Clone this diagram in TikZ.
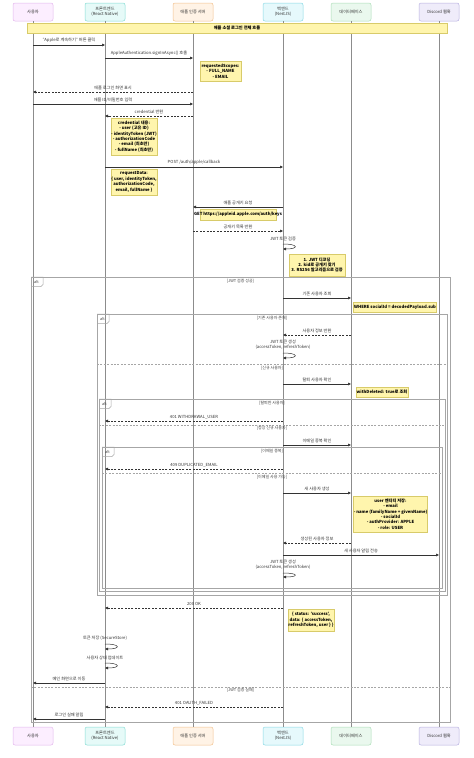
\documentclass[tikz,border=0pt]{standalone}
\usepackage{fontspec}
\setmainfont{Noto Sans CJK KR}
\usetikzlibrary{arrows.meta}
\definecolor{notefill}{HTML}{FFF5AD}
\definecolor{notestroke}{HTML}{D8CB6A}
\definecolor{ufill}{HTML}{FCEEFF}\definecolor{uline}{HTML}{E2B6EC}
\definecolor{ffill}{HTML}{E6FAF8}\definecolor{fline}{HTML}{84DCD4}
\definecolor{afill}{HTML}{FFF3E6}\definecolor{aline}{HTML}{F2C08C}
\definecolor{bfill}{HTML}{E6F9FC}\definecolor{bline}{HTML}{86D8E4}
\definecolor{dfill}{HTML}{EAF8EE}\definecolor{dline}{HTML}{A9DDB6}
\definecolor{wfill}{HTML}{EFECFA}\definecolor{wline}{HTML}{B7B0E0}
\tikzset{
  txt/.style={font=\fontsize{4.2}{5.2}\selectfont},
  actor/.style={txt, draw, rounded corners=2pt, line width=0.5pt, minimum width=40pt, minimum height=18pt, align=center, inner sep=0.5pt, text=black!80},
  lifeline/.style={draw=black!45, line width=0.6pt},
  msgarrow/.style={draw=black!80, line width=0.5pt, -{Triangle[length=3pt,width=2.6pt]}},
  reply/.style={msgarrow, dash pattern=on 2pt off 1.4pt},
  lbl/.style={txt, text=black!80, inner sep=0.5pt, above, yshift=1.3pt, align=center},
  notebox/.style={txt, font=\fontsize{4.2}{5.4}\selectfont\bfseries, draw=notestroke, fill=notefill, line width=0.4pt, align=center, inner sep=0.5pt},
  frame/.style={draw=black!35, line width=0.5pt},
  divider/.style={draw=black!35, line width=0.5pt, dash pattern=on 2pt off 1.4pt},
  cond/.style={txt, font=\fontsize{4}{5}\selectfont, text=black!75, inner sep=0.5pt},
  tabtxt/.style={txt, font=\fontsize{3.8}{4.5}\selectfont, text=black!75, inner sep=0.5pt}
}
\newcommand\mymsg[6]{% name, x1, x2, y, style, label
  \coordinate (#1s) at (#2,#4);
  \coordinate (#1e) at (#3,#4);
  \draw[#5] (#1s) -- node[lbl]{#6} (#1e);}
\newcommand\myself[5]{% name, x, y1, y2, label
  \coordinate (#1s) at (#2,#3);
  \coordinate (#1e) at (#2,#4);
  \node[lbl, anchor=south, above=0pt] (#1l) at (#2,#3-1.5) {#5};
  \draw[msgarrow] (#1s) .. controls +(16,0) and +(16,0) .. (#1e);}
\newcommand\myalt[5]{% name, x1, y1, x2, y2
  \draw[frame] (#2,#3) rectangle (#4,#5);
  \draw[frame] (#2,#3) -- (#2+12,#3) -- (#2+12,#3+7.5) -- (#2+10,#3+9.5) -- (#2,#3+9.5);
  \node[tabtxt] (#1tab) at (#2+5.5,#3+4.6) {alt};}
\begin{document}
\begin{tikzpicture}[x=1pt,y=-1pt]
\useasboundingbox (0,0) rectangle (474,758);
% participants
\node[actor, draw=uline, fill=ufill] (uT) at (33,12) {사용자};
\node[actor, draw=fline, fill=ffill] (fT) at (105,12) {프론트엔드\\(React Native)};
\node[actor, draw=aline, fill=afill] (aT) at (193,12) {애플 인증 서버};
\node[actor, draw=bline, fill=bfill] (bT) at (283,12) {백엔드\\(NestJS)};
\node[actor, draw=dline, fill=dfill] (dT) at (351,12) {데이터베이스};
\node[actor, draw=wline, fill=wfill] (wT) at (439,12) {Discord 웹훅};
\node[actor, draw=uline, fill=ufill] (uB) at (33,736) {사용자};
\node[actor, draw=fline, fill=ffill] (fB) at (105,736) {프론트엔드\\(React Native)};
\node[actor, draw=aline, fill=afill] (aB) at (193,736) {애플 인증 서버};
\node[actor, draw=bline, fill=bfill] (bB) at (283,736) {백엔드\\(NestJS)};
\node[actor, draw=dline, fill=dfill] (dB) at (351,736) {데이터베이스};
\node[actor, draw=wline, fill=wfill] (wB) at (439,736) {Discord 웹훅};
% lifelines
\draw[lifeline] (uT) -- (uB);
\draw[lifeline] (fT) -- (fB);
\draw[lifeline] (aT) -- (aB);
\draw[lifeline] (bT) -- (bB);
\draw[lifeline] (dT) -- (dB);
\draw[lifeline] (wT) -- (wB);
% frames
\myalt{o}{31}{277}{450}{722}
\node[cond] (oc1) at (240.5,281.5) {[JWT 검증 성공]};
\draw[divider] (31,687) -- (450,687);
\node[cond] (oc2) at (240.5,690.5) {[JWT 검증 실패]};
\myalt{i}{97}{314}{447}{595}
\node[cond] (ic1) at (272,318.5) {[기존 사용자 존재]};
\draw[divider] (97,364) -- (447,364);
\node[cond] (ic2) at (272,368) {[신규 사용자]};
\myalt{j}{99}{399}{445}{591.5}
\node[cond] (jc1) at (272,403) {[탈퇴한 사용자]};
\draw[divider] (99,425) -- (445,425);
\node[cond] (jc2) at (272,428.5) {[정상 신규 사용자]};
\myalt{k}{102}{447}{442}{588}
\node[cond] (kc1) at (272,451) {[이메일 중복]};
\draw[divider] (102,473) -- (442,473);
\node[cond] (kc2) at (272,477) {[이메일 사용 가능]};
% title note
\node[notebox, minimum width=420pt, minimum height=10pt] (title) at (237,28) {애플 소셜 로그인 전체 흐름};
% messages
\mymsg{m1}{33}{105}{45}{msgarrow}{"Apple로 계속하기" 버튼 클릭}
\mymsg{m2}{105}{193}{58}{msgarrow}{AppleAuthentication.signInAsync() 호출}
\node[notebox, minimum width=41pt, minimum height=20pt] (n1) at (220.5,71) {requestedScopes:\\- FULL\_NAME\\- EMAIL};
\mymsg{m3}{193}{33}{92}{reply}{애플 로그인 화면 표시}
\mymsg{m4}{33}{193}{104}{msgarrow}{애플 ID/비밀번호 입력}
\mymsg{m5}{193}{105}{116}{reply}{credential 반환}
\node[notebox, minimum width=44pt, minimum height=37pt] (n2) at (134,136.5) {credential 내용:\\- user (고유 ID)\\- identityToken (JWT)\\- authorizationCode\\- email (최초만)\\- fullName (최초만)};
\mymsg{m6}{105}{283}{167}{msgarrow}{POST /auth/apple/callback}
\node[notebox, minimum width=44pt, minimum height=26pt] (n3) at (134,182) {requestData:\\\{ user, identityToken,\\authorizationCode,\\email, fullName \}};
\mymsg{m7}{283}{193}{207}{msgarrow}{애플 공개키 요청}
\node[notebox, minimum width=76pt, minimum height=11pt] (n4) at (238,214.5) {\makebox[70pt]{GET https://appleid.apple.com/auth/keys}};
\mymsg{m8}{193}{283}{231}{reply}{공개키 목록 반환}
\myself{s1}{283}{244}{249}{JWT 토큰 검증}
\node[notebox, minimum width=56pt, minimum height=22pt] (n5) at (317,265) {1. JWT 디코딩\\2. kid로 공개키 찾기\\3. RS256 알고리즘으로 검증};
\mymsg{m9}{283}{351}{298}{msgarrow}{기존 사용자 조회}
\node[notebox, minimum width=76pt, minimum height=10pt] (n6) at (395,307) {WHERE socialId = decodedPayload.sub};
\mymsg{m10}{351}{283}{335}{reply}{사용자 정보 반환}
\myself{s2}{283}{353}{358}{JWT 토큰 생성\\(accessToken, refreshToken)}
\mymsg{m11}{283}{351}{384}{msgarrow}{탈퇴 사용자 확인}
\node[notebox, minimum width=50pt, minimum height=10pt] (n7) at (382,392) {withDeleted: true로 조회};
\mymsg{m12}{283}{105}{421}{reply}{401 WITHDRAWAL\_USER}
\mymsg{m13}{283}{351}{445}{msgarrow}{이메일 중복 확인}
\mymsg{m14}{283}{105}{469}{reply}{409 DUPLICATED\_EMAIL}
\mymsg{m15}{283}{351}{493}{msgarrow}{새 사용자 생성}
\node[notebox, minimum width=67pt, minimum height=36pt] (n8) at (390.5,514) {user 엔티티 저장:\\- email\\- name (familyName + givenName)\\- socialId\\- authProvider: APPLE\\- role: USER};
\mymsg{m16}{351}{283}{543}{reply}{생성된 사용자 정보}
\mymsg{m17}{283}{439}{555}{msgarrow}{새 사용자 알림 전송}
\myself{s3}{283}{573}{577}{JWT 토큰 생성\\(accessToken, refreshToken)}
\mymsg{m18}{283}{105}{608}{reply}{200 OK}
\node[notebox, minimum width=46pt, minimum height=22pt] (n9) at (311,620) {\{ status: 'success',\\data: \{ accessToken,\\refreshToken, user \} \}};
\myself{s4}{105}{644}{649}{토큰 저장 (SecureStore)}
\myself{s5}{105}{663}{668}{사용자 상태 업데이트}
\mymsg{m19}{105}{33}{683}{msgarrow}{메인 화면으로 이동}
\mymsg{m20}{283}{105}{707}{reply}{401 OAUTH\_FAILED}
\mymsg{m21}{105}{33}{719}{msgarrow}{로그인 실패 알림}
\end{tikzpicture}
\end{document}
